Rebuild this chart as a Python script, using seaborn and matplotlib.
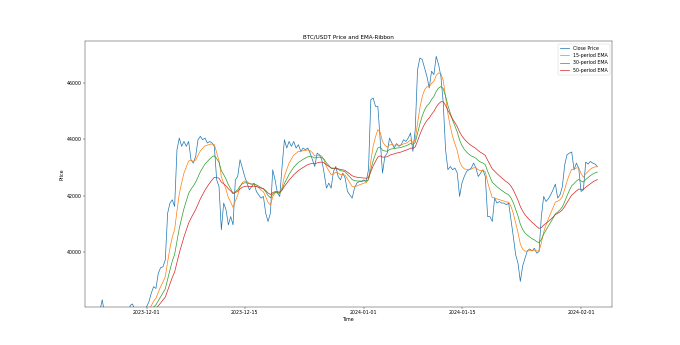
import matplotlib
matplotlib.use("Agg")
import matplotlib.pyplot as plt
import matplotlib.dates as mdates
import numpy as np
import pandas as pd
import seaborn as sns

# ---- data ----
start_time = "2023-11-24 00:00"
step = "8h"          # sampling step of the values
candle_hours = 4     # the original EMA periods were counted on 4h candles

close_price = [
    37750, 37900, 38300, 37800, 37700, 37650, 37750, 37600, 37450, 37300,
    37250, 37100, 37350, 37700, 38100, 38150, 37900, 37850, 37800, 37750,
    37900, 38050, 38230, 38530, 38765, 38700, 39240, 39440, 39470, 39715,
    41375, 41735, 41850, 41615, 43630, 44045, 43750, 43925, 43750, 43925,
    43275, 43155, 43390, 43985, 44105, 43985, 44045, 43870, 43925, 43870,
    43750, 42560, 42325, 40785, 41735, 41495, 40960, 41255, 40960, 42560,
    42680, 43275, 42980, 42680, 42445, 42205, 42325, 42445, 42145, 42030,
    41910, 41970, 41375, 41080, 41375, 42920, 42560, 42090, 41970, 43035,
    43985, 43690, 43925, 43750, 43925, 43690, 43810, 43570, 43690, 43630,
    43690, 43510, 43275, 43035, 43510, 43450, 43275, 42800, 42265, 42445,
    42265, 42860, 43035, 42680, 42560, 42800, 42620, 42145, 42030, 41910,
    42265, 42445, 42500, 42500, 42560, 42500, 42920, 45410, 45470, 45170,
    45170, 43985, 42800, 43390, 43510, 44045, 43870, 43690, 43850, 43750,
    43810, 43985, 43925, 44045, 44225, 43570, 44340, 46475, 46890, 46835,
    46540, 46240, 45825, 46420, 46300, 46950, 46655, 46240, 45290, 43630,
    42920, 43035, 42920, 42980, 42800, 41970, 42445, 42680, 42860, 42920,
    42980, 43155, 42980, 42680, 42800, 42920, 42680, 41255, 41255, 41080,
    41910, 41735, 41790, 41735, 41735, 41675, 41735, 41140, 40545, 39900,
    39600, 38950, 39500, 39775, 40035, 40105, 40035, 40130, 39955, 40010,
    41255, 41970, 41790, 41885, 42030, 42205, 42410, 41910, 42030, 42325,
    43095, 43450, 43510, 43550, 42920, 43155, 42980, 42145, 42205, 43190,
    43120, 43215, 43155, 43120, 43035,
]
ema_periods = [15, 30, 50]
series_labels = ["Close Price", "15-period EMA", "30-period EMA", "50-period EMA"]
y_ticks = [40000, 42000, 44000, 46000]

# ---- build frame ----
times = pd.date_range(start_time, periods=len(close_price), freq=step)
df = pd.DataFrame({"time": times, "close": close_price})
ratio = pd.Timedelta(step) / pd.Timedelta(hours=candle_hours)
for p in ema_periods:
    a4 = 2.0 / (p + 1)
    alpha = 1 - (1 - a4) ** ratio
    df[f"ema{p}"] = df["close"].ewm(alpha=alpha, adjust=False).mean()

# ---- plot ----
fig, ax = plt.subplots(figsize=(20, 345 / 34), dpi=34)
colors = ["C0", "C1", "C2", "C3"]
sns.lineplot(data=df, x="time", y="close", ax=ax, color=colors[0],
             label=series_labels[0], linewidth=1.5)
for p, lab, c in zip(ema_periods, series_labels[1:], colors[1:]):
    sns.lineplot(data=df, x="time", y=f"ema{p}", ax=ax, color=c,
                 label=lab, linewidth=1.5)

ax.set_title("BTC/USDT Price and EMA-Ribbon")
ax.set_xlabel("Time")
ax.set_ylabel("Price")
ax.set_ylim(38040, 47480)
ax.set_xlim(pd.Timestamp("2023-11-22 05:00"), pd.Timestamp("2024-02-05 10:00"))
ax.set_yticks(y_ticks)
ax.xaxis.set_major_locator(mdates.DayLocator(bymonthday=[1, 15]))
ax.xaxis.set_major_formatter(mdates.DateFormatter("%Y-%m-%d"))
ax.legend(loc="upper right")

fig.savefig("out.png", dpi=34)
